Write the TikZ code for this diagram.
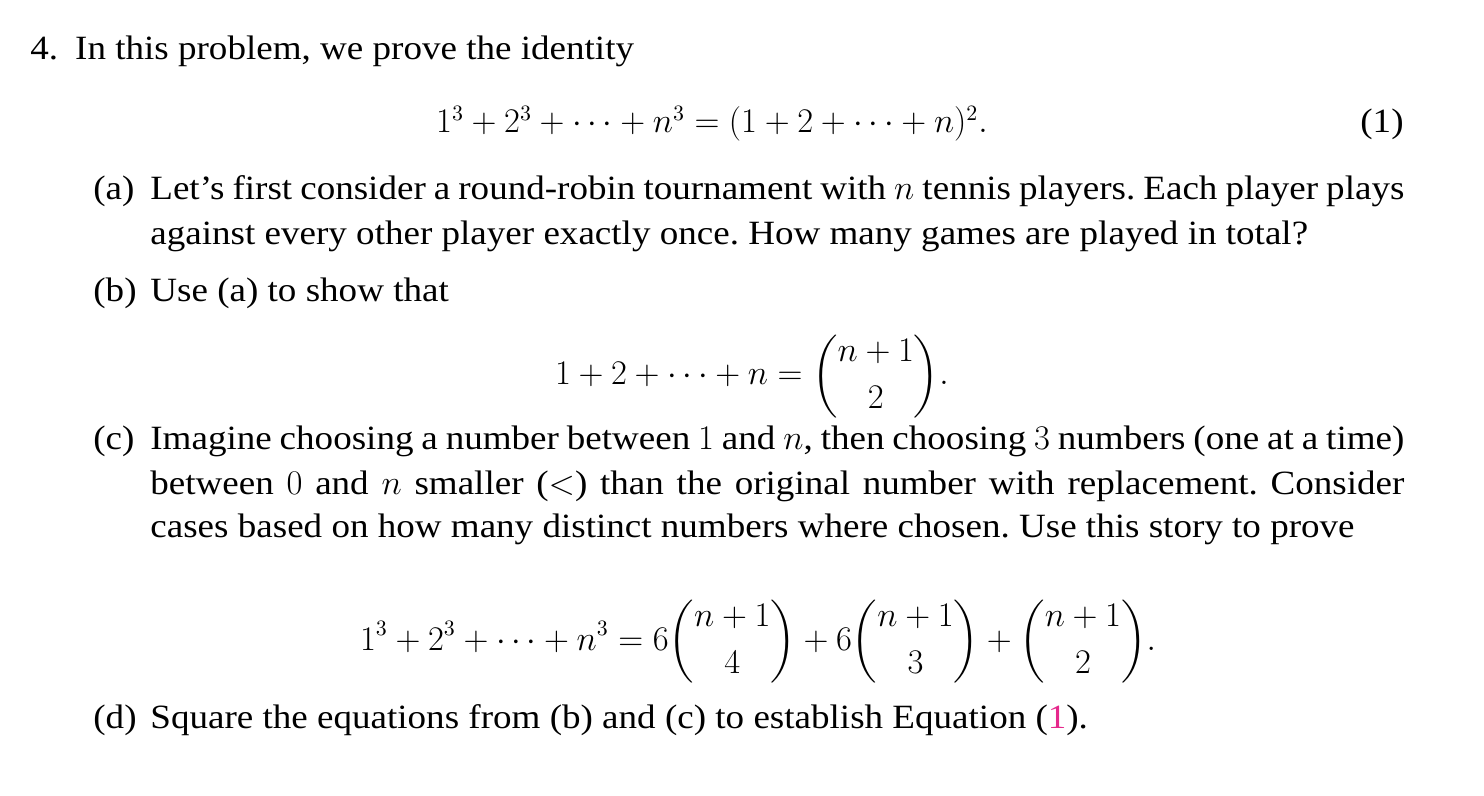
\documentclass[tikz,border=0pt]{standalone}
\usepackage{amsmath}
\usepackage{fontspec}
\setmainfont[FakeStretch=1.09]{Liberation Serif}
\definecolor{linkpink}{RGB}{230,40,140}
\frenchspacing
\begin{document}
\begin{tikzpicture}[x=0.5pt,y=-0.5pt,
  txt/.style={anchor=base west,inner sep=0pt,font=\fontsize{17}{20}\selectfont},
  txtc/.style={anchor=base,inner sep=0pt,font=\fontsize{16}{19}\selectfont},
  txte/.style={anchor=base east,inner sep=0pt,font=\fontsize{17}{20}\selectfont}]
\useasboundingbox (0,0) rectangle (1484,796);
\node[txt] (l0) at (30,60) {4.\hspace{0.5em}In this problem, we prove the identity};
\node[txtc] (e1) at (712,133) {$1^3+2^3+\cdots+n^3=(1+2+\cdots+n)^2.$};
\node[txte] (n1) at (1404,133) {(1)};
\node[txt] (a0) at (93,200) {(a)};
\node[txt] (a1) at (150,200) {\makebox[627pt][s]{Let’s first consider a round-robin tournament with $n$ tennis players. Each player plays}};
\node[txt] (a2) at (150,245) {against every other player exactly once. How many games are played in total?};
\node[txt] (b0) at (93,302) {(b)};
\node[txt] (b1) at (150,302) {Use (a) to show that};
\node[txtc] (eb) at (752,385) {$\displaystyle 1+2+\cdots+n=\binom{n+1}{2}.$};
\node[txt] (c0) at (93,450) {(c)};
\node[txt] (c1) at (150,450) {\makebox[627pt][s]{Imagine choosing a number between $1$ and $n$, then choosing $3$ numbers (one at a time)}};
\node[txt] (c2) at (150,495) {\makebox[627pt][s]{between $0$ and $n$ smaller ($<$) than the original number with replacement. Consider}};
\node[txt] (c3) at (150,538) {cases based on how many distinct numbers where chosen. Use this story to prove};
\node[txtc] (ec) at (758,650) {$\displaystyle 1^3+2^3+\cdots+n^3=6\binom{n+1}{4}+6\binom{n+1}{3}+\binom{n+1}{2}.$};
\node[txt] (d0) at (93,728) {(d)};
\node[txt] (d1) at (150,728) {Square the equations from (b) and (c) to establish Equation (\textcolor{linkpink}{1}).};
\end{tikzpicture}
\end{document}
